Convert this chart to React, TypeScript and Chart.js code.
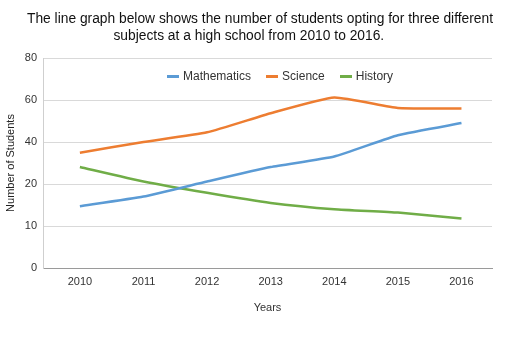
import React, { useEffect, useRef } from "react";
import { Chart, registerables } from "chart.js";

Chart.register(...registerables);

const titleLines = [
  "The line graph below shows the number of students opting for three different",
  "subjects at a high school from 2010 to 2016.",
];
const years = [2010, 2011, 2012, 2013, 2014, 2015, 2016];
const yTickLabels = [0, 10, 20, 40, 60, 80];
const seriesNames = ["Mathematics", "Science", "History"];
const seriesColors = ["#5b9bd5", "#ed7d31", "#70ad47"];
const mathematics = [14.7, 17.0, 21.2, 28.1, 33.1, 43.2, 49.0];
const science = [34.9, 40.0, 44.6, 53.7, 61.2, 56.2, 56.0];
const history = [28.1, 21.2, 17.9, 15.5, 14.0, 13.2, 11.8];

// The value axis is labelled unevenly (0,10,20,40,60,80 at equal spacing),
// so values are placed piecewise-linearly between the labelled gridlines.
function toAxis(v: number): number {
  for (let i = 0; i < yTickLabels.length - 1; i++) {
    const a = yTickLabels[i];
    const b = yTickLabels[i + 1];
    if (v <= b || i === yTickLabels.length - 2) {
      return i + (v - a) / (b - a);
    }
  }
  return 0;
}

const FONT = "'Liberation Sans', Arial, sans-serif";

export default function App() {
  const canvasRef = useRef<HTMLCanvasElement | null>(null);

  useEffect(() => {
    document.body.style.margin = "0";
    const canvas = canvasRef.current;
    if (!canvas) return;
    const values = [mathematics, science, history];
    const chart = new Chart(canvas, {
      type: "line",
      data: {
        datasets: values.map((vals, i) => ({
          label: seriesNames[i],
          data: vals.map((v, j) => ({ x: years[j], y: toAxis(v) })),
          borderColor: seriesColors[i],
          backgroundColor: seriesColors[i],
          borderWidth: 2.5,
          pointRadius: 0,
          tension: 0.15,
          fill: false,
        })),
      },
      options: {
        responsive: false,
        animation: false,
        layout: { padding: { left: 4, right: 20, top: 58, bottom: 26 } },
        plugins: {
          legend: { display: false },
          tooltip: { enabled: false },
          title: { display: false },
        },
        scales: {
          x: {
            type: "linear",
            min: years[0] - 0.58,
            max: years[years.length - 1] + 0.48,
            afterBuildTicks: (scale: any) => {
              scale.ticks = years.map((v) => ({ value: v }));
            },
            afterFit: (scale: any) => {
              scale.height = 47;
            },
            grid: { display: false, drawTicks: false },
            border: { display: true, color: "#9a9a9a", width: 1 },
            ticks: {
              color: "#333",
              font: { family: FONT, size: 11 },
              padding: 7,
              maxRotation: 0,
              autoSkip: false,
              callback: (v: any) => String(v),
            },
            title: {
              display: true,
              text: "Years",
              color: "#333",
              font: { family: FONT, size: 11 },
              padding: { top: 0, bottom: 0 },
            },
          },
          y: {
            type: "linear",
            min: 0,
            max: yTickLabels.length - 1,
            afterBuildTicks: (scale: any) => {
              scale.ticks = yTickLabels.map((_, i) => ({ value: i }));
            },
            afterFit: (scale: any) => {
              scale.width = 39;
            },
            grid: { color: "#d9d9d9", lineWidth: 1, drawTicks: false },
            border: { display: true, color: "#cfcfcf", width: 1 },
            ticks: {
              color: "#333",
              font: { family: FONT, size: 11 },
              padding: 6,
              callback: (v: any) => String(yTickLabels[Math.round(v)]),
            },
            title: {
              display: true,
              text: "Number of Students",
              color: "#222",
              font: { family: FONT, size: 11 },
              padding: { top: 0.5, bottom: 0 },
            },
          },
        },
      },
    });
    return () => chart.destroy();
  }, []);

  const titleStyle: React.CSSProperties = {
    position: "absolute",
    left: 0,
    textAlign: "center",
    fontFamily: FONT,
    fontSize: 13.8,
    lineHeight: "16px",
    color: "#111",
    whiteSpace: "nowrap",
  };

  return (
    <div style={{ position: "fixed", left: 0, top: 0, width: 512, height: 341, background: "#fff", overflow: "hidden" }}>
      <canvas ref={canvasRef} width={512} height={341} style={{ width: 512, height: 341, display: "block" }} />
      <div style={{ ...titleStyle, top: 10.5, width: 520 }}>{titleLines[0]}</div>
      <div style={{ ...titleStyle, top: 27.5, width: 497.6 }}>{titleLines[1]}</div>
      <div
        style={{
          position: "absolute",
          left: 167,
          top: 69,
          display: "flex",
          alignItems: "center",
          fontFamily: FONT,
          fontSize: 12,
          color: "#333",
          lineHeight: "14px",
          whiteSpace: "nowrap",
        }}
      >
        {seriesNames.map((name, i) => (
          <div key={name} style={{ display: "flex", alignItems: "center", marginRight: i < seriesNames.length - 1 ? 15 : 0 }}>
            <span style={{ display: "inline-block", width: 12, height: 3, background: seriesColors[i], marginRight: 4 }} />
            <span>{name}</span>
          </div>
        ))}
      </div>
    </div>
  );
}
